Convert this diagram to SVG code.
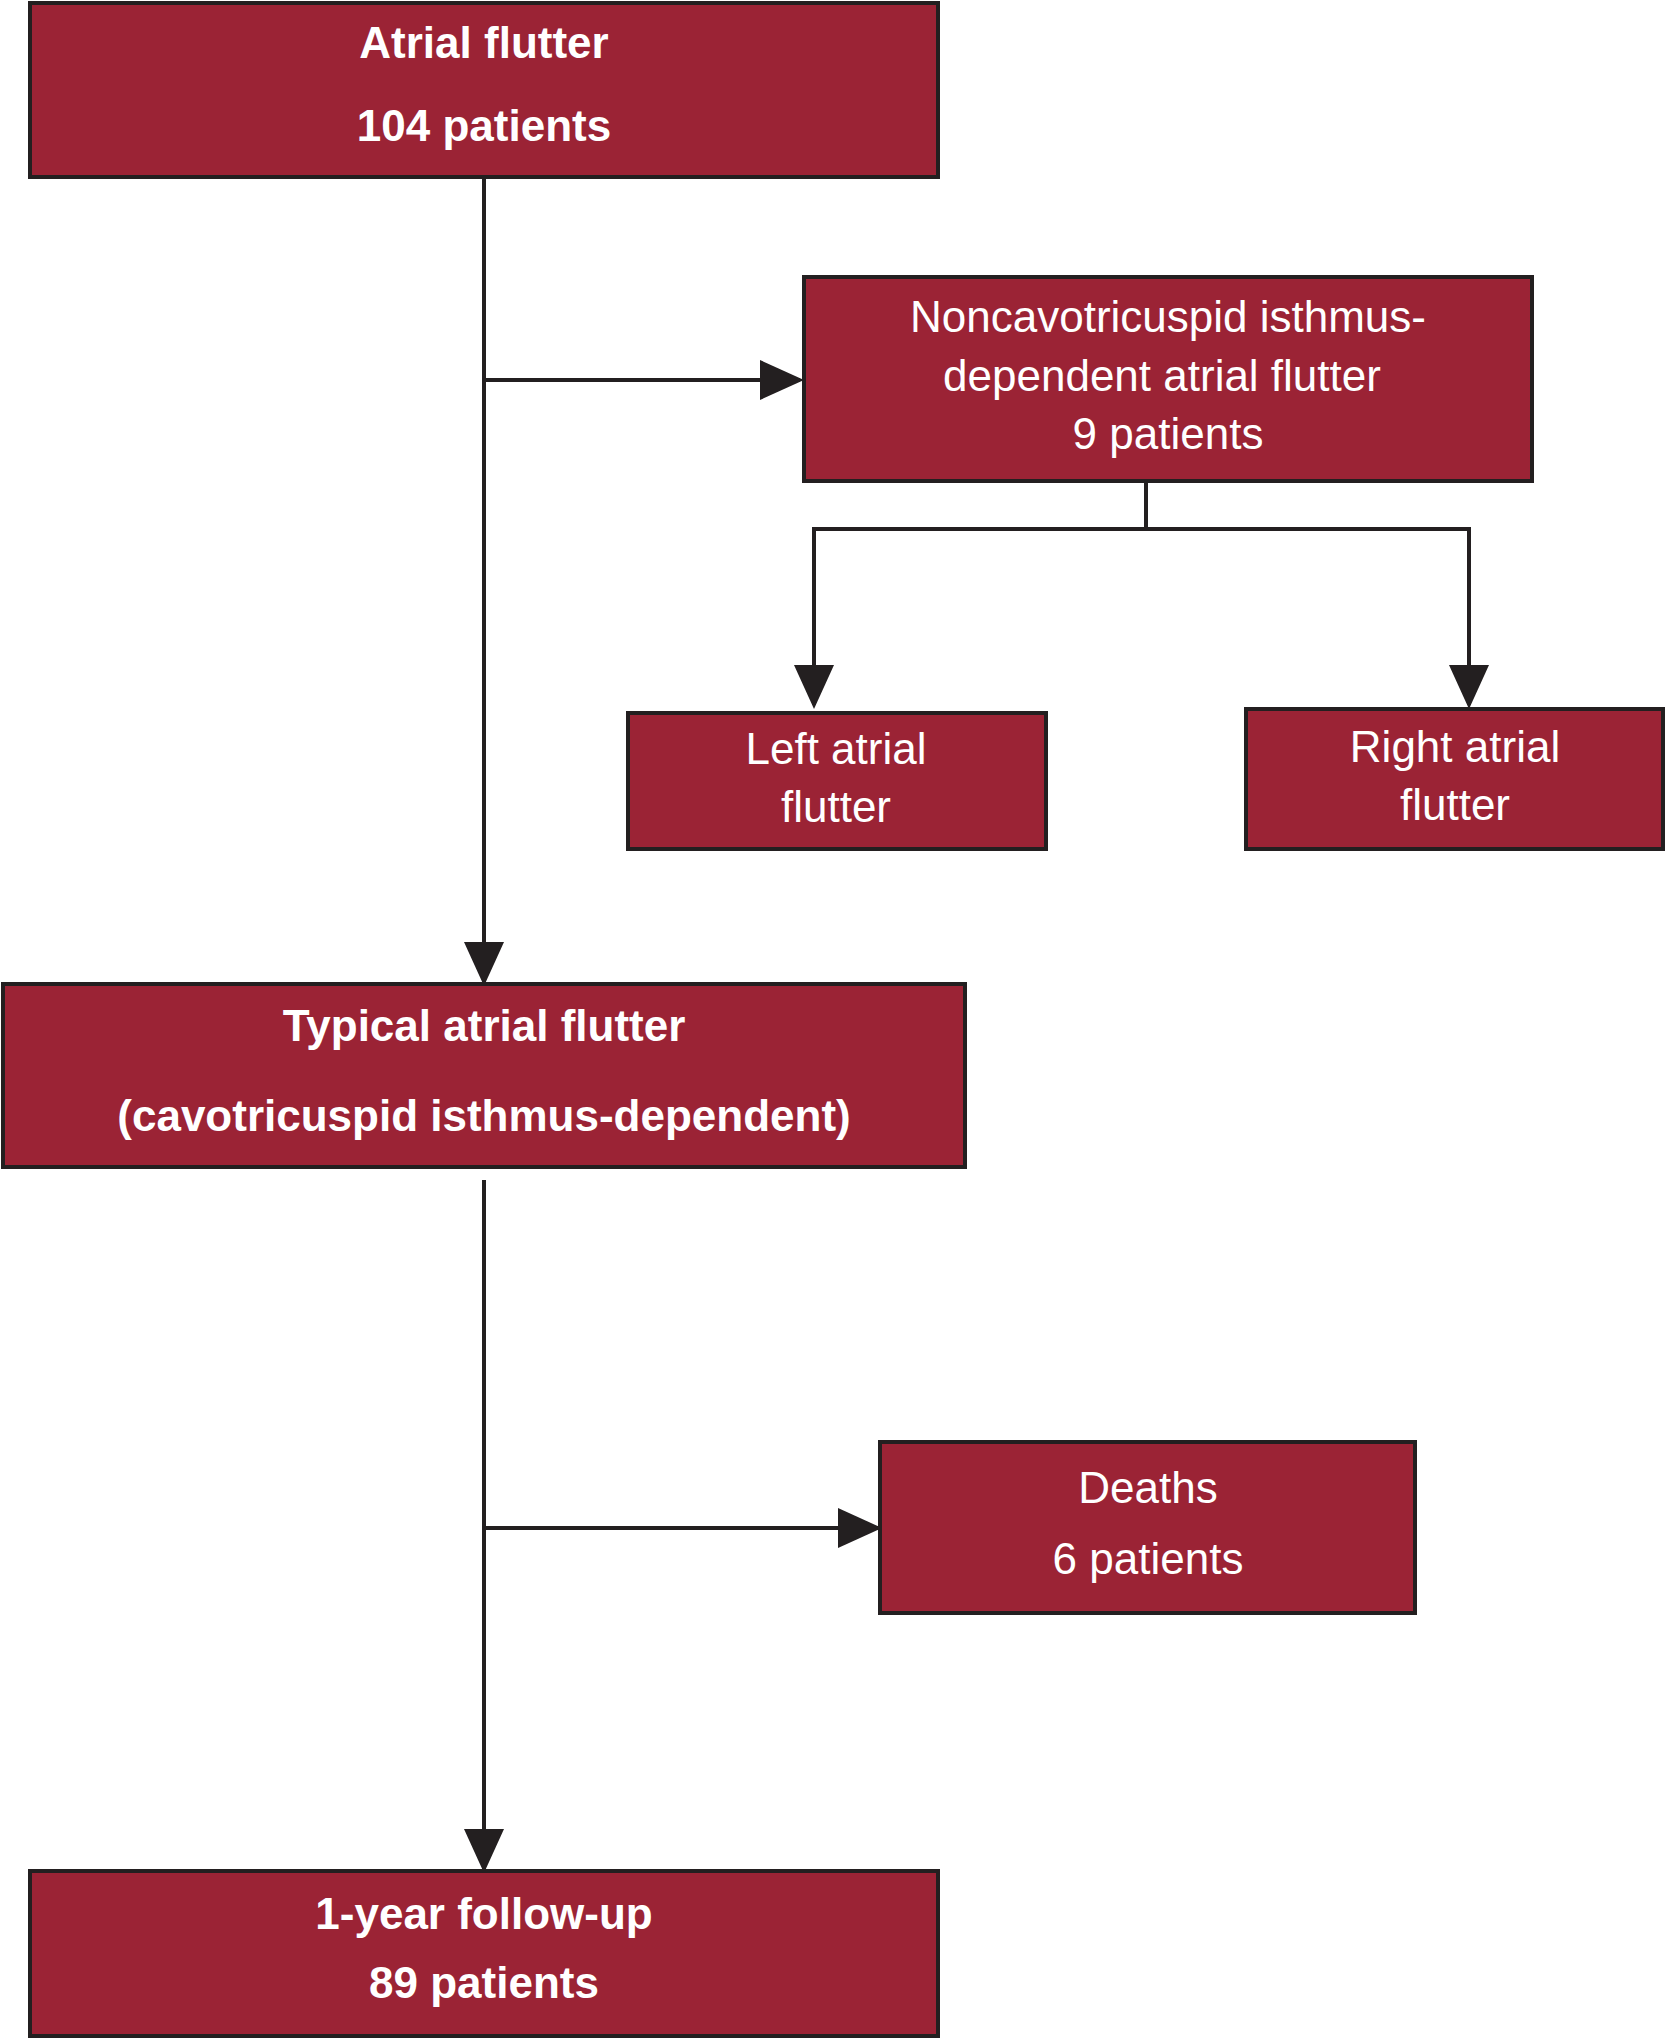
<svg xmlns="http://www.w3.org/2000/svg" width="1666" height="2039" viewBox="0 0 1666 2039">
<style>
.b{fill:#9b2335;stroke:#231f20;stroke-width:4}
.t{fill:#fff;font-family:"Liberation Sans",Arial,sans-serif;font-size:44px;text-anchor:middle}
.bd{font-weight:bold}
.c{stroke:#231f20;stroke-width:4;fill:none}
</style>
<defs><marker id="a" markerWidth="11" markerHeight="10" refX="10" refY="5" orient="auto" markerUnits="strokeWidth"><path d="M0,0L11,5L0,10z" fill="#231f20"/></marker></defs>
<rect width="1666" height="2039" fill="#fff"/>
<g id="connectors">
<path class="c" d="M484,177V982" marker-end="url(#a)"/>
<path class="c" d="M484,380H800" marker-end="url(#a)"/>
<path class="c" d="M1146,481V529H814V705" marker-end="url(#a)"/>
<path class="c" d="M1146,529H1469V705" marker-end="url(#a)"/>
<path class="c" d="M484,1180V1869" marker-end="url(#a)"/>
<path class="c" d="M484,1528H878" marker-end="url(#a)"/>
</g>
<g id="n1"><rect class="b" x="30" y="3" width="908" height="174"/><text class="t bd" x="484" y="58">Atrial flutter</text><text class="t bd" x="484" y="141">104 patients</text></g>
<g id="n2"><rect class="b" x="804" y="277" width="728" height="204"/><text class="t" x="1168" y="332">Noncavotricuspid isthmus-</text><text class="t" x="1162" y="391">dependent  atrial flutter</text><text class="t" x="1168" y="449">9 patients</text></g>
<g id="n3"><rect class="b" x="628" y="713" width="418" height="136"/><text class="t" x="836" y="764">Left atrial</text><text class="t" x="836" y="822">flutter</text></g>
<g id="n4"><rect class="b" x="1246" y="709" width="417" height="140"/><text class="t" x="1455" y="762">Right atrial</text><text class="t" x="1455" y="820">flutter</text></g>
<g id="n5"><rect class="b" x="3" y="984" width="962" height="183"/><text class="t bd" x="484" y="1041">Typical atrial flutter</text><text class="t bd" x="484" y="1131">(cavotricuspid isthmus-dependent)</text></g>
<g id="n6"><rect class="b" x="880" y="1442" width="535" height="171"/><text class="t" x="1148" y="1503">Deaths</text><text class="t" x="1148" y="1574">6 patients</text></g>
<g id="n7"><rect class="b" x="30" y="1871" width="908" height="165"/><text class="t bd" x="484" y="1929">1-year follow-up</text><text class="t bd" x="484" y="1998">89 patients</text></g>
</svg>
